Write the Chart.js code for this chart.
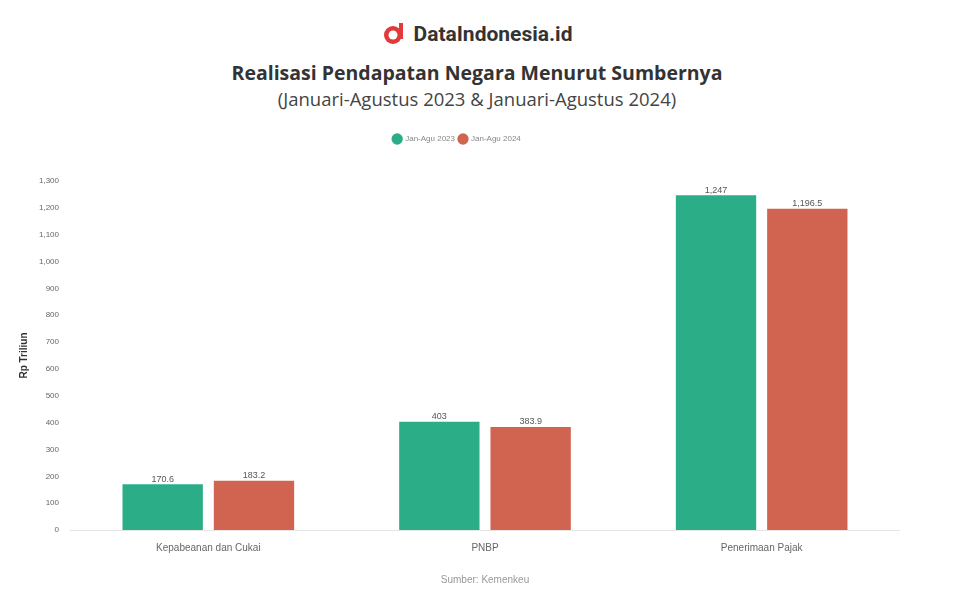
<!DOCTYPE html><html><head><meta charset="utf-8">
<script src="https://cdn.jsdelivr.net/npm/chart.js@4"></script>
<style>body{margin:0;width:954px;height:596px;background:#fff;font-family:"Source Sans Pro","Open Sans",sans-serif;overflow:hidden}
#hdr{position:absolute;top:22px;left:0;width:954px;text-align:center;color:#333}
.logo{font:bold 21px Roboto,sans-serif;display:inline-flex;align-items:center;gap:8px}
.t1{font:bold 19.5px "Open Sans",sans-serif;margin-top:8px}
.t2{font:18.5px "Open Sans",sans-serif;margin-top:0px;color:#444}
#wrap{position:absolute;left:14px;top:131px;width:886px;height:459px}</style></head><body>
<div id="hdr"><div class="logo"><svg width="24" height="24" viewBox="0 0 24 24"><circle cx="11" cy="13" r="9" fill="#e03a3a"/><circle cx="11" cy="13" r="4.5" fill="#fff"/><rect x="17" y="1" width="4" height="16" fill="#e03a3a"/></svg>DataIndonesia.id</div>
<div class="t1">Realisasi Pendapatan Negara Menurut Sumbernya</div>
<div class="t2">(Januari-Agustus 2023 &amp; Januari-Agustus 2024)</div></div>
<div id="wrap"><canvas id="c"></canvas></div>
<script>
const categories=["Kepabeanan dan Cukai","PNBP","Penerimaan Pajak"];
const seriesNames=["Jan-Agu 2023","Jan-Agu 2024"];
const values2023=[170.6,403.0,1246.97];
const values2024=[183.2,383.9,1196.54];
const labels2023=["170.6","403","1,247"];
const labels2024=["183.2","383.9","1,196.5"];
const colors=["#2bae88","#d06450"];
const lbls=[labels2023,labels2024];
new Chart(document.getElementById('c'),{type:'bar',
data:{labels:categories,datasets:[{label:seriesNames[0],data:values2023,backgroundColor:colors[0]},{label:seriesNames[1],data:values2024,backgroundColor:colors[1]}]},
options:{responsive:true,maintainAspectRatio:false,animation:false,
datasets:{bar:{categoryPercentage:0.66,barPercentage:0.88}},
plugins:{legend:{labels:{usePointStyle:true,pointStyle:'circle',boxWidth:10,font:{size:8},color:'#888',padding:4},
},tooltip:{enabled:false}},
scales:{x:{grid:{display:false},ticks:{color:'#666',font:{size:10},padding:4},
title:{display:true,text:'Sumber: Kemenkeu',color:'#999',font:{size:10},padding:{top:16}}},
y:{min:0,max:1300,afterFit(s){s.width=56;},ticks:{stepSize:100,color:'#666',font:{size:8},callback:v=>v.toLocaleString('en-US')},grid:{display:false},border:{display:false},
title:{display:true,text:'Rp Triliun',color:'#333',font:{size:10,weight:'bold'}}}}},
plugins:[{id:'lm',beforeInit(ch){const f=ch.legend.fit;ch.legend.fit=function(){f.call(this);this.height+=28;};}},
{id:'vl',afterDatasetsDraw(ch){const x=ch.ctx;x.save();x.font='9px sans-serif';x.fillStyle='#555';x.textAlign='center';
ch.data.datasets.forEach((d,i)=>ch.getDatasetMeta(i).data.forEach((b,j)=>x.fillText(lbls[i][j],b.x,b.y-5)));x.restore();}}]});
</script></body></html>
